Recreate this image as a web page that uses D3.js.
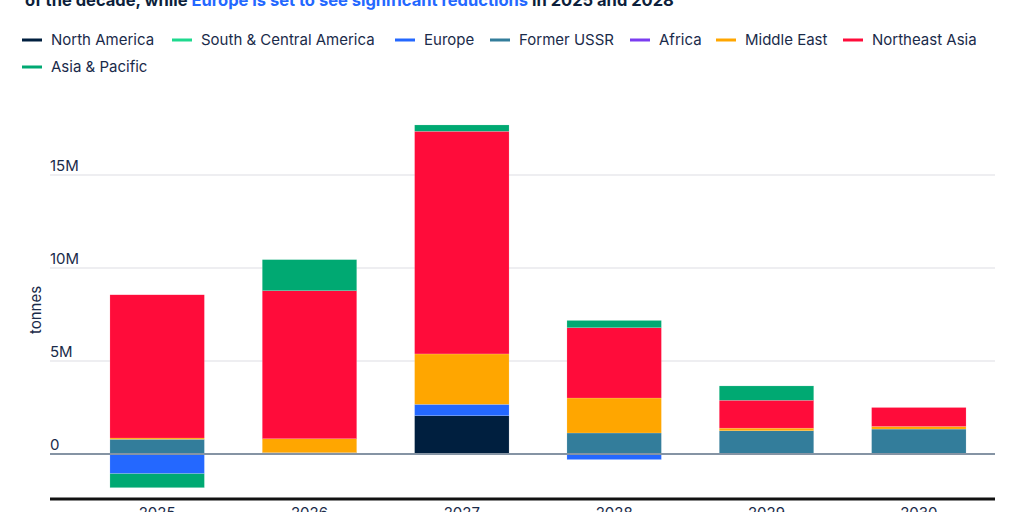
<!DOCTYPE html>
<html>
<head>
<meta charset="utf-8">
<script src="https://cdn.jsdelivr.net/npm/d3@7"></script>
<style>
  body { margin: 0; background: #fff; }
  svg { display: block; font-family: Inter, "Noto Sans", sans-serif; }
</style>
</head>
<body>
<script>
// years on the x axis
const years = ['2025', '2026', '2027', '2028', '2029', '2030'];

// series (million tonnes), bottom to top
const regions = ['North America', 'South & Central America', 'Europe', 'Former USSR',
    'Africa', 'Middle East', 'Northeast Asia', 'Asia & Pacific'];
const regionColors = ['#001f3f', '#1ed98e', '#2468ff', '#337d9b',
    '#7b3cf0', '#ffa600', '#ff0c3a', '#00a972'];

const northAmerica = [0, 0, 2.06, 0, 0, 0];
const southCentral = [0, 0, 0, 0, 0, 0];
const europe       = [-1.06, 0.07, 0.61, -0.3, 0, 0];
const formerUSSR   = [0.79, 0, 0, 1.13, 1.25, 1.34];
const africa       = [0, 0, 0, 0, 0, 0];
const middleEast   = [0.07, 0.75, 2.71, 1.88, 0.14, 0.14];
const northeastAsia = [7.7, 7.96, 11.97, 3.78, 1.5, 1.02];
const asiaPacific  = [-0.75, 1.67, 0.34, 0.39, 0.77, 0];

const seriesValues = [northAmerica, southCentral, europe, formerUSSR,
    africa, middleEast, northeastAsia, asiaPacific];

const yTicks = [0, 5, 10, 15];

function main() {
    const width = 1024, height = 512;
    const svg = d3.select('body').append('svg')
        .attr('width', width)
        .attr('height', height);

    // title (partly cut off at top)
    const title = svg.append('text')
        .attr('x', 25).attr('y', 6)
        .attr('font-size', 16.5).attr('font-weight', 700)
        .attr('fill', '#0d1f3c');
    title.append('tspan').text('of the decade, while ');
    title.append('tspan').attr('fill', '#2468ff').text('Europe is set to see significant reductions');
    title.append('tspan').text(' in 2025 and 2028');

    // legend
    const legendPos = [
        [22, 40], [172, 40], [395, 40], [490, 40], [630, 40], [716, 40], [843, 40],
        [22, 67]
    ];
    const lg = svg.append('g').selectAll('g')
        .data(regions)
        .join('g')
        .attr('transform', (d, i) => `translate(${legendPos[i][0]},${legendPos[i][1]})`);
    lg.append('line')
        .attr('x1', 0).attr('x2', 20).attr('y1', 0).attr('y2', 0)
        .attr('stroke', (d, i) => regionColors[i])
        .attr('stroke-width', 3);
    lg.append('text')
        .attr('x', 29).attr('y', 5)
        .attr('font-size', 15)
        .attr('fill', '#1a2b4a')
        .text(d => d);

    // data table for stacking
    const table = years.map((y, j) => {
        const row = { year: y };
        regions.forEach((r, i) => { row[r] = seriesValues[i][j]; });
        return row;
    });
    const stacked = d3.stack()
        .keys(regions)
        .offset(d3.stackOffsetDiverging)(table);

    const x = d3.scaleBand()
        .domain(years)
        .range([81, 995])
        .paddingInner(0.38)
        .paddingOuter(0.19);

    const y = d3.scaleLinear()
        .domain([0, 15])
        .range([454, 175]);

    // gridlines and tick labels
    const grid = svg.append('g');
    grid.selectAll('line')
        .data(yTicks.filter(t => t !== 0))
        .join('line')
        .attr('x1', 50).attr('x2', 995)
        .attr('y1', d => y(d)).attr('y2', d => y(d))
        .attr('stroke', '#e8e9ec')
        .attr('stroke-width', 1.5);
    grid.selectAll('text')
        .data(yTicks)
        .join('text')
        .attr('x', 50)
        .attr('y', d => y(d) - 4)
        .attr('font-size', 15)
        .attr('fill', '#1a2b4a')
        .text(d => d === 0 ? '0' : d + 'M');

    // y axis title
    svg.append('text')
        .attr('transform', 'translate(41,310) rotate(-90)')
        .attr('text-anchor', 'middle')
        .attr('font-size', 15)
        .attr('fill', '#1a2b4a')
        .text('tonnes');

    // bars
    svg.append('g').selectAll('g')
        .data(stacked)
        .join('g')
        .attr('fill', (d, i) => regionColors[i])
        .selectAll('rect')
        .data(d => d.filter(s => s[1] - s[0] !== 0))
        .join('rect')
        .attr('x', d => x(d.data.year))
        .attr('width', x.bandwidth())
        .attr('y', d => y(Math.max(d[0], d[1])))
        .attr('height', d => Math.abs(y(d[0]) - y(d[1])))
        .attr('stroke', '#fff')
        .attr('stroke-opacity', 0.3)
        .attr('stroke-width', 0.5);

    // zero line
    svg.append('line')
        .attr('x1', 50).attr('x2', 995)
        .attr('y1', y(0)).attr('y2', y(0))
        .attr('stroke', '#8594a4')
        .attr('stroke-width', 2);

    // bottom axis
    svg.append('line')
        .attr('x1', 50).attr('x2', 995)
        .attr('y1', 499).attr('y2', 499)
        .attr('stroke', '#111')
        .attr('stroke-width', 3);

    svg.append('g').selectAll('text')
        .data(years)
        .join('text')
        .attr('x', d => x(d) + x.bandwidth() / 2)
        .attr('y', 518)
        .attr('text-anchor', 'middle')
        .attr('font-size', 15)
        .attr('fill', '#1a2b4a')
        .text(d => d);
}

main();
</script>
</body>
</html>
